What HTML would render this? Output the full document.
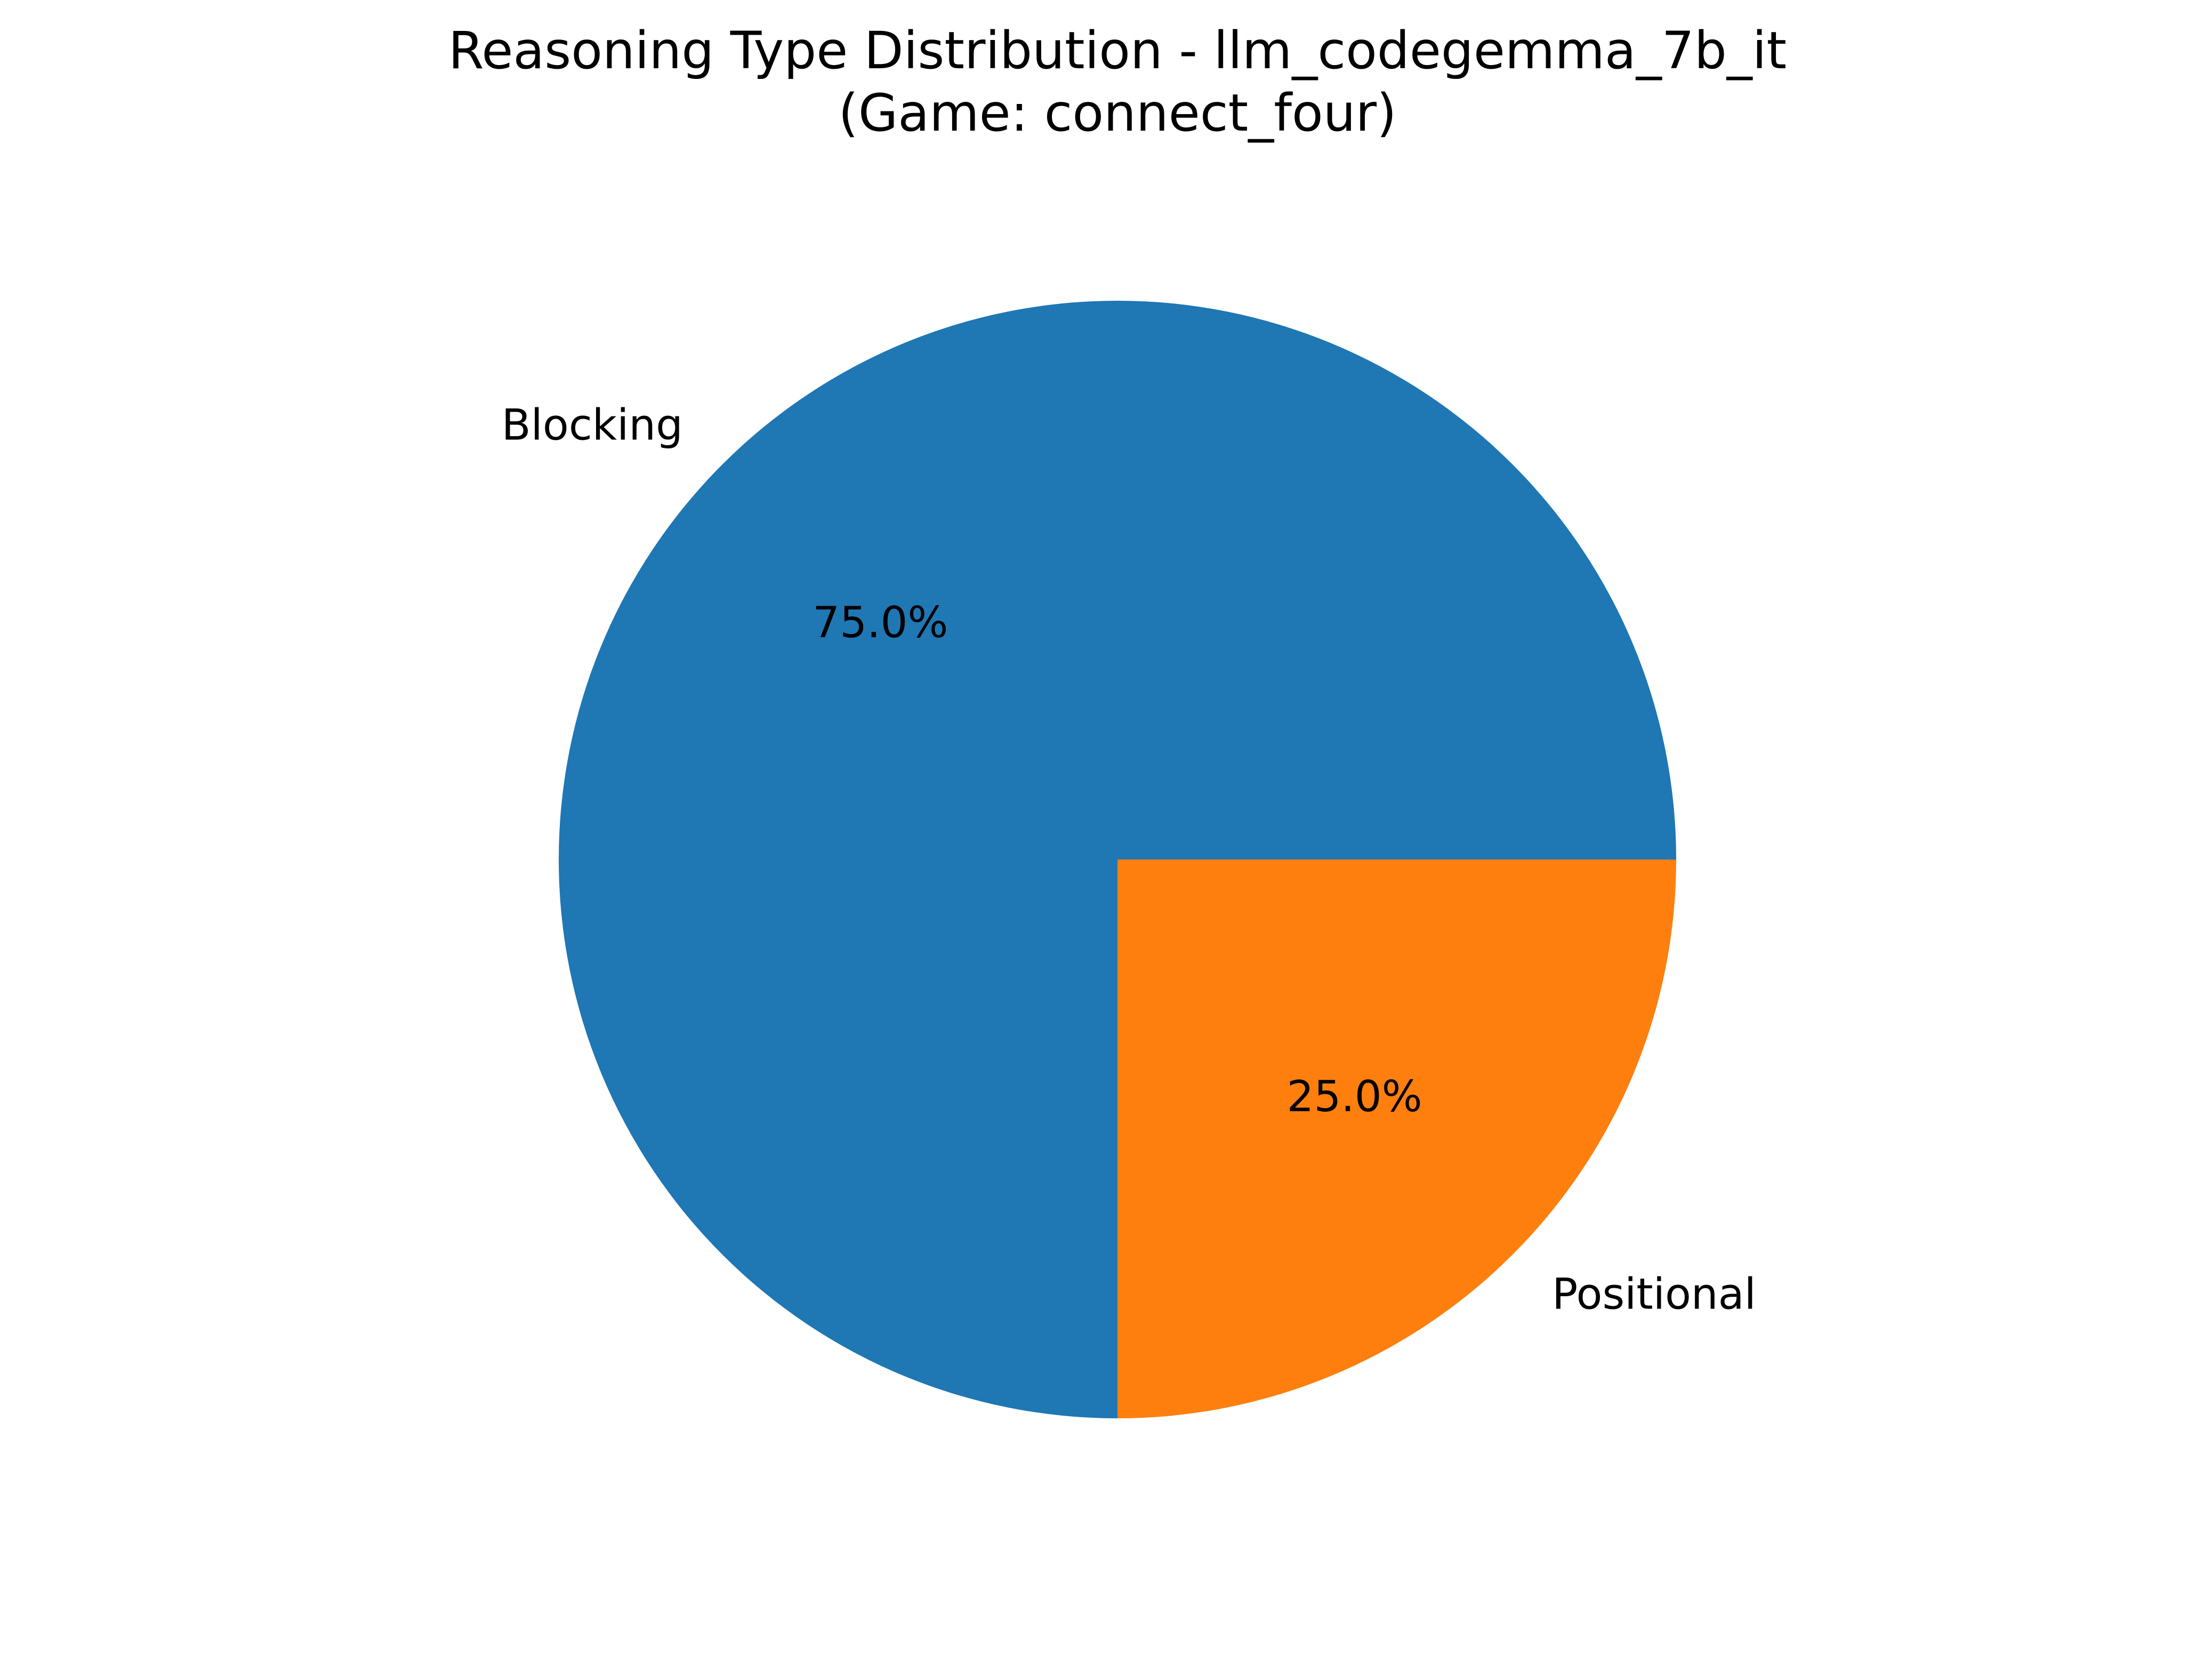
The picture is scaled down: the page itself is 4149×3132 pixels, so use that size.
<!DOCTYPE html>
<html><head><meta charset="utf-8"><style>html,body{margin:0;padding:0;background:#fff}svg{display:block}text{font-family:"DejaVu Sans","Liberation Sans",sans-serif}</style></head>
<body>
<svg id="chart" width="4149" height="3132" viewBox="0 0 4149 3132" xmlns="http://www.w3.org/2000/svg">
<rect width="4149" height="3132" fill="#fff"/>
<text x="2096" y="128" font-size="96" text-anchor="middle" fill="#000">Reasoning Type Distribution - llm_codegemma_7b_it</text>
<text x="2096" y="245" font-size="96" text-anchor="middle" fill="#000">(Game: connect_four)</text>
<g id="slices"></g>
</svg>
<script>
const categories = ["Blocking", "Positional"];
const values = [75, 25];
const colors = ["#1f77b4", "#ff7f0e"];
const cx = 2096, cy = 1612, R = 1048;
const NS = "http://www.w3.org/2000/svg";
const g = document.getElementById("slices");
const total = values.reduce((a,b)=>a+b,0);
function pt(angDeg, r){const a=angDeg*Math.PI/180;return [cx+r*Math.cos(a), cy-r*Math.sin(a)];}
let start = 0;
values.forEach((v,i)=>{
  const sweep = v/total*360, end = start+sweep;
  const [x1,y1]=pt(start,R), [x2,y2]=pt(end,R);
  const large = sweep>180?1:0;
  const p=document.createElementNS(NS,"path");
  p.setAttribute("d",`M${cx},${cy} L${x1},${y1} A${R},${R} 0 ${large} 0 ${x2},${y2} Z`);
  p.setAttribute("fill",colors[i]);
  
  
  g.appendChild(p);
  const mid=(start+end)/2;
  const [lx,ly]=pt(mid,R*1.1);
  const t=document.createElementNS(NS,"text");
  t.setAttribute("x",lx);t.setAttribute("y",ly);
  t.setAttribute("font-size","80");t.setAttribute("dominant-baseline","central");
  t.setAttribute("text-anchor", Math.cos(mid*Math.PI/180)>=0?"start":"end");
  t.textContent=categories[i];
  
  
  g.appendChild(t);
  const [px,py]=pt(mid,R*0.6);
  const u=document.createElementNS(NS,"text");
  u.setAttribute("x",px);u.setAttribute("y",py);
  u.setAttribute("font-size","80");u.setAttribute("dominant-baseline","central");u.setAttribute("text-anchor","middle");
  u.textContent=(v/total*100).toFixed(1)+"%";
  
  
  g.appendChild(u);
  start=end;
});
</script>
</body></html>
